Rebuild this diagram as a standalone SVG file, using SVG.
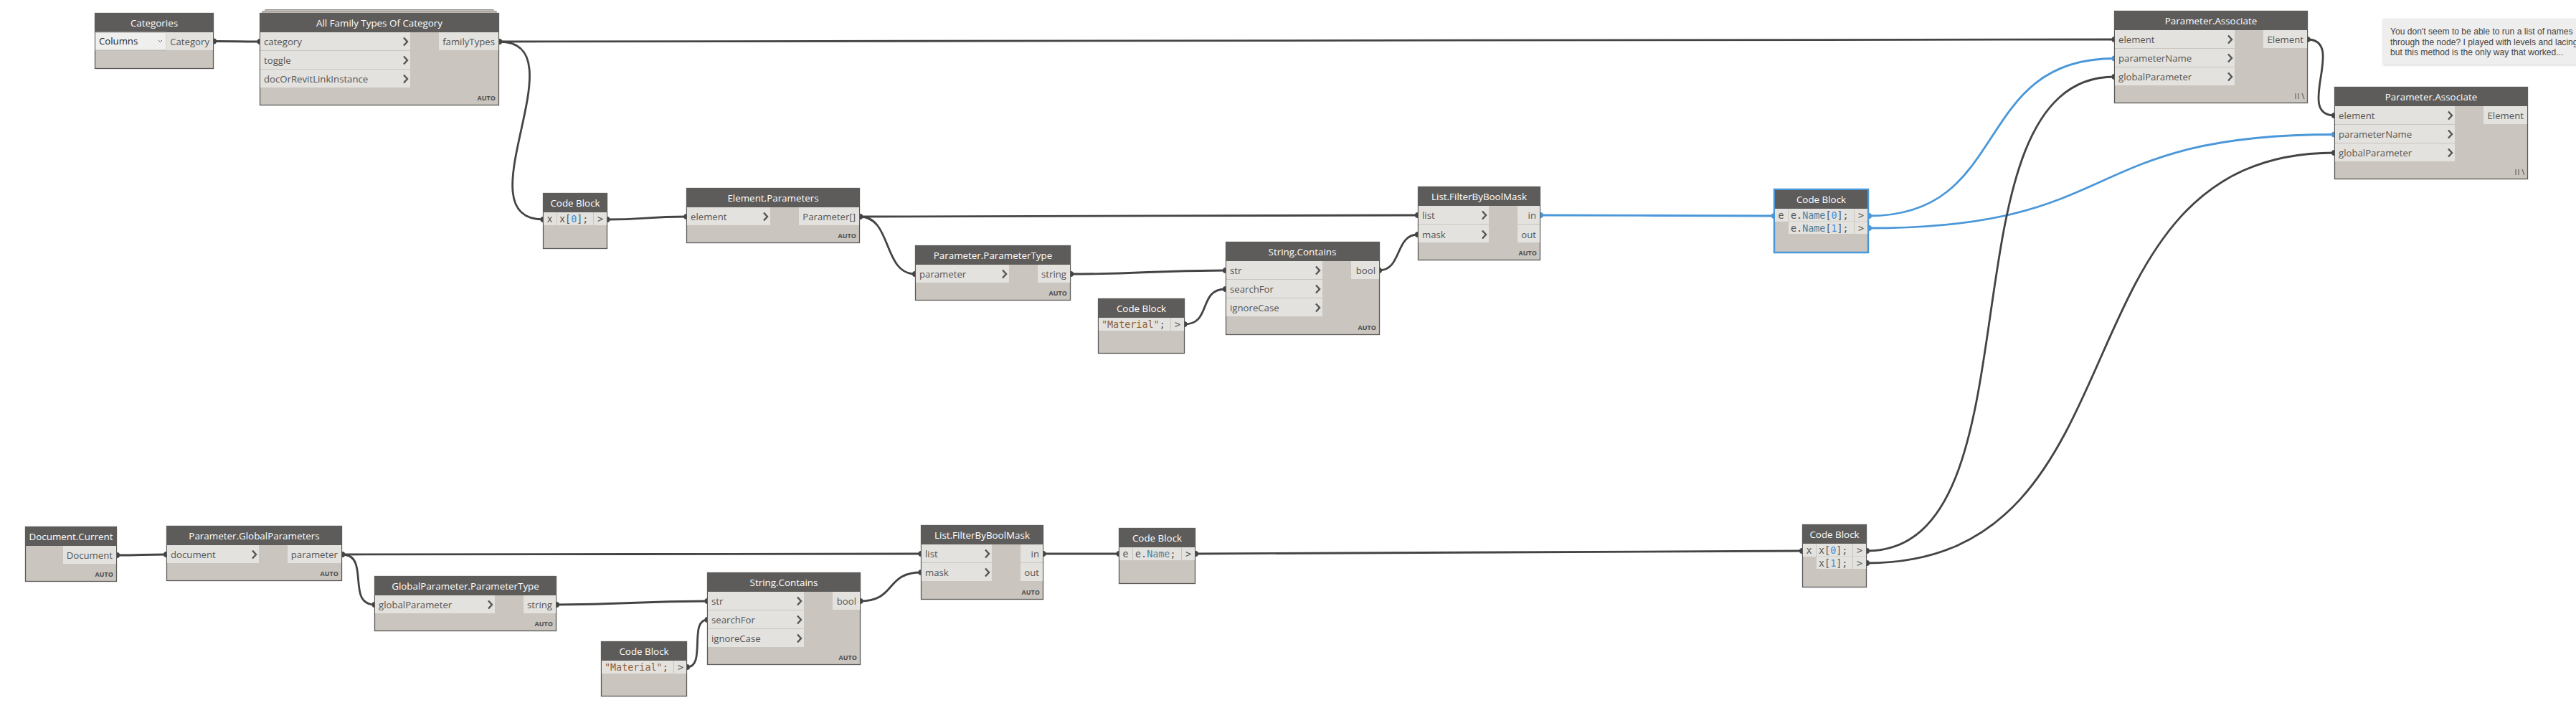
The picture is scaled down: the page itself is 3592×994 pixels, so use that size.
<svg xmlns="http://www.w3.org/2000/svg" width="3592" height="994" viewBox="0 0 3592 994">
<style>
text{font-family:"Open Sans","Noto Sans","Liberation Sans",sans-serif}
.bg{fill:#fff}
.b{fill:#cac5be;stroke:#5a5a58;stroke-width:1.3}
.h{fill:#5e5c5a}
.r{fill:#e3e2de}
.t{fill:#fff;font-size:13.4px;font-weight:500;text-anchor:middle}
.l{fill:#555;font-size:13.2px}
.o{fill:#555;font-size:13.2px;text-anchor:end}
.a{fill:#4e4e4e;font-size:9px;font-weight:700;text-anchor:end}
.c{fill:#555;font-family:"DejaVu Sans Mono","Liberation Mono",monospace;font-size:13.4px}
.n{fill:#4b7f9f}.d{fill:#3b8fe0}.s{fill:#8f5e36}
.w{fill:none;stroke:#444;stroke-width:2.8;marker-start:url(#k);marker-end:url(#k)}
.u{fill:none;stroke:#4a97d9;stroke-width:2.8;marker-start:url(#q);marker-end:url(#q)}
.v{fill:none;stroke:#555;stroke-width:2.4}
.st{fill:#cac5be;stroke:#8a8a86;stroke-width:1}
.nt{fill:#444;font-family:"Liberation Sans",Arial,sans-serif;font-size:12.1px}
.m{fill:none;stroke:#666;stroke-width:1.2}
</style>
<defs>
<marker id="k" markerUnits="userSpaceOnUse" markerWidth="10" markerHeight="10" refX="5" refY="5"><circle cx="5" cy="5" r="4" fill="#444"/></marker>
<marker id="q" markerUnits="userSpaceOnUse" markerWidth="10" markerHeight="10" refX="5" refY="5"><circle cx="5" cy="5" r="4" fill="#4a97d9"/></marker>
<path id="cv" class="v" d="M-3-5.5 2 0-3 5.5"/>
<path id="lc" class="m" d="M-12-4V4M-8-4V4M-3-4 0 4"/>
<filter id="sh" x="-5%" y="-10%" width="110%" height="125%"><feDropShadow dx="0" dy="1" stdDeviation="1.5" flood-color="#000" flood-opacity=".18"/></filter>
</defs>
<rect class="bg" width="3592" height="994"/>
<g id="connectors">
<path class="w" d="M298 57.500C330 57.500 330 58 362.500 58"/>
<path class="w" d="M696 58C1800 58 1800 55 2948.500 55"/>
<path class="w" d="M696 58C812 58 641 306 757.500 306"/>
<path class="w" d="M846.500 306C900 306 900 302 957.500 302"/>
<path class="w" d="M1199 302C1600 302 1600 300 1977 300"/>
<path class="w" d="M1199 302C1244 302 1231 382 1276 382"/>
<path class="w" d="M1493 382C1600 382 1600 377 1709 377"/>
<path class="w" d="M1651.500 452C1690 452 1670 403 1709 403"/>
<path class="w" d="M1923 377C1955 377 1945 327 1977 327"/>
<path class="u" d="M2148 300C2310 300 2310 301 2474 301"/>
<path class="u" d="M2606 301C2806 301 2748 81.500 2948.500 81.500"/>
<path class="u" d="M2606 318C2966 318 2895 187.500 3255 187.500"/>
<path class="w" d="M3217.500 55C3272 55 3200 161 3255 161"/>
<path class="w" d="M163 774C198 774 198 773 232 773"/>
<path class="w" d="M477 773C880 773 880 772 1284.500 772"/>
<path class="w" d="M477 773C517 773 482 843 522.500 843"/>
<path class="w" d="M776 843C880 843 880 838 986.500 838"/>
<path class="w" d="M958 930C985 930 960 864 986.500 864"/>
<path class="w" d="M1199.500 838C1250 838 1234 798 1284.500 798"/>
<path class="w" d="M1454.500 772C1508 772 1508 772 1560.500 772"/>
<path class="w" d="M1667 772C2090 772 2090 768 2513 768"/>
<path class="w" d="M2603 768C2853 768 2698 107 2948.500 107"/>
<path class="w" d="M2603 785C3003 785 2855 213 3255 213"/>
</g>

<g id="categories">
<rect class="b" x="132.500" y="18.500" width="165" height="77"/><rect class="h" x="132" y="18" width="166" height="27"/>
<rect x="133" y="45" width="99" height="25" fill="#efefed" stroke="#b5b3ae"/><rect class="r" x="232" y="45" width="65" height="25"/>
<text class="t" x="215" y="36.500">Categories</text>
<text class="l" x="138" y="61.500" style="fill:#222">Columns</text>
<path d="M221 56l2.500 2.500 2.500-2.500" fill="none" stroke="#666"/>
<text class="o" x="292" y="62.500">Category</text>
</g>

<g id="all-family-types">
<rect class="st" x="370" y="13.500" width="318" height="10"/><rect class="st" x="366" y="15.500" width="326" height="10"/>
<rect class="b" x="362.500" y="18.500" width="333" height="128"/><rect class="h" x="362" y="18" width="334" height="27"/>
<rect class="r" x="363" y="45" width="209" height="25"/><rect class="r" x="363" y="71" width="209" height="25"/><rect class="r" x="363" y="97" width="209" height="25"/><rect class="r" x="612" y="45" width="83" height="25"/>
<text class="t" x="529" y="36.500">All Family Types Of Category</text>
<text class="l" x="368" y="62.500">category</text><text class="l" x="368" y="88.500">toggle</text><text class="l" x="368" y="114.500">docOrRevitLinkInstance</text>
<use href="#cv" x="566" y="58"/><use href="#cv" x="566" y="84"/><use href="#cv" x="566" y="110"/>
<text class="o" x="690" y="62.500">familyTypes</text><text class="a" x="691" y="139.500">AUTO</text>
</g>

<g id="code-block-x0">
<rect class="b" x="757.500" y="269.500" width="89" height="77"/><rect class="h" x="757" y="269" width="90" height="27"/>
<rect class="r" x="758" y="296" width="18" height="18"/><rect class="r" x="777" y="296" width="50" height="18"/><rect class="r" x="828" y="296" width="18" height="18"/>
<text class="t" x="802" y="287.500">Code Block</text>
<text class="c" x="762.500" y="310">x</text><text class="c" x="780" y="310">x[<tspan class="d">0</tspan>];</text><text class="c" x="833" y="310">&gt;</text>
</g>

<g id="element-parameters">
<rect class="b" x="957.500" y="262.500" width="241" height="76"/><rect class="h" x="957" y="262" width="242" height="27"/>
<rect class="r" x="958" y="289" width="116" height="25"/><rect class="r" x="1114" y="289" width="84" height="25"/>
<text class="t" x="1078" y="280.500">Element.Parameters</text>
<text class="l" x="963" y="306.500">element</text><use href="#cv" x="1068" y="302"/>
<text class="o" x="1193" y="306.500">Parameter[]</text><text class="a" x="1194" y="331.500">AUTO</text>
</g>

<g id="parameter-parametertype">
<rect class="b" x="1276.500" y="342.500" width="216" height="76"/><rect class="h" x="1276" y="342" width="217" height="27"/>
<rect class="r" x="1277" y="369" width="130" height="25"/><rect class="r" x="1447" y="369" width="45" height="25"/>
<text class="t" x="1384.500" y="360.500">Parameter.ParameterType</text>
<text class="l" x="1282" y="386.500">parameter</text><use href="#cv" x="1401" y="382"/>
<text class="o" x="1487" y="386.500">string</text><text class="a" x="1488" y="411.500">AUTO</text>
</g>

<g id="code-block-material-1">
<rect class="b" x="1531.500" y="416.500" width="120" height="76"/><rect class="h" x="1531" y="416" width="121" height="27"/>
<rect class="r" x="1532" y="443" width="100" height="18"/><rect class="r" x="1633" y="443" width="18" height="18"/>
<text class="t" x="1591.500" y="434.500">Code Block</text>
<text class="c" x="1536" y="457"><tspan class="s">"Material"</tspan>;</text><text class="c" x="1638" y="457">&gt;</text>
</g>

<g id="string-contains-1">
<rect class="b" x="1709.500" y="337.500" width="214" height="129"/><rect class="h" x="1709" y="337" width="215" height="27"/>
<rect class="r" x="1710" y="364" width="134" height="25"/><rect class="r" x="1710" y="390" width="134" height="25"/><rect class="r" x="1710" y="416" width="134" height="25"/><rect class="r" x="1884" y="364" width="39" height="25"/>
<text class="t" x="1816" y="355.500">String.Contains</text>
<text class="l" x="1715" y="381.500">str</text><text class="l" x="1715" y="407.500">searchFor</text><text class="l" x="1715" y="433.500">ignoreCase</text>
<use href="#cv" x="1838" y="377"/><use href="#cv" x="1838" y="403"/><use href="#cv" x="1838" y="429"/>
<text class="o" x="1918" y="381.500">bool</text><text class="a" x="1919" y="459.500">AUTO</text>
</g>

<g id="list-filter-1">
<rect class="b" x="1977.500" y="260.500" width="170" height="102"/><rect class="h" x="1977" y="260" width="171" height="27"/>
<rect class="r" x="1978" y="287" width="98" height="25"/><rect class="r" x="1978" y="313" width="98" height="25"/><rect class="r" x="2116" y="287" width="31" height="25"/><rect class="r" x="2116" y="313" width="31" height="25"/>
<text class="t" x="2062.500" y="278.500">List.FilterByBoolMask</text>
<text class="l" x="1983" y="304.500">list</text><text class="l" x="1983" y="331.500">mask</text>
<use href="#cv" x="2070" y="300"/><use href="#cv" x="2070" y="327"/>
<text class="o" x="2142" y="304.500">in</text><text class="o" x="2142" y="331.500">out</text><text class="a" x="2143" y="355.500">AUTO</text>
</g>

<g id="code-block-names">
<rect class="b" x="2474" y="264" width="131" height="88" style="stroke:#4a97d9;stroke-width:2.500"/><rect class="h" x="2475" y="265" width="129" height="26"/>
<rect class="r" x="2475" y="291" width="18" height="18"/><rect class="r" x="2494" y="291" width="91" height="17.500"/><rect class="r" x="2494" y="309" width="91" height="17"/><rect class="r" x="2586" y="291" width="18" height="17.500"/><rect class="r" x="2586" y="309" width="18" height="17"/>
<text class="t" x="2539.500" y="282.500">Code Block</text>
<text class="c" x="2479.500" y="305">e</text>
<text class="c" x="2497" y="305">e.<tspan class="n">Name</tspan>[<tspan class="d">0</tspan>];</text>
<text class="c" x="2497" y="323">e.<tspan class="n">Name</tspan>[<tspan class="d">1</tspan>];</text>
<text class="c" x="2591" y="305">&gt;</text><text class="c" x="2591" y="323">&gt;</text>
</g>

<g id="parameter-associate-1">
<rect class="b" x="2948.500" y="15.500" width="269" height="128"/><rect class="h" x="2948" y="15" width="270" height="27"/>
<rect class="r" x="2949" y="42" width="167" height="25"/><rect class="r" x="2949" y="68" width="167" height="25"/><rect class="r" x="2949" y="94" width="167" height="25"/><rect class="r" x="3156" y="42" width="61" height="25"/>
<text class="t" x="3083" y="33.500">Parameter.Associate</text>
<text class="l" x="2954" y="59.500">element</text><text class="l" x="2954" y="85.500">parameterName</text><text class="l" x="2954" y="111.500">globalParameter</text>
<use href="#cv" x="3110" y="55"/><use href="#cv" x="3110" y="81"/><use href="#cv" x="3110" y="107"/>
<text class="o" x="3212" y="59.500">Element</text><use href="#lc" x="3213" y="134"/>
</g>

<g id="parameter-associate-2">
<rect class="b" x="3255.500" y="121.500" width="269" height="128"/><rect class="h" x="3255" y="121" width="270" height="27"/>
<rect class="r" x="3256" y="148" width="167" height="25"/><rect class="r" x="3256" y="174" width="167" height="25"/><rect class="r" x="3256" y="200" width="167" height="25"/><rect class="r" x="3463" y="148" width="61" height="25"/>
<text class="t" x="3390" y="139.500">Parameter.Associate</text>
<text class="l" x="3261" y="165.500">element</text><text class="l" x="3261" y="191.500">parameterName</text><text class="l" x="3261" y="217.500">globalParameter</text>
<use href="#cv" x="3417" y="161"/><use href="#cv" x="3417" y="187"/><use href="#cv" x="3417" y="213"/>
<text class="o" x="3519" y="165.500">Element</text><use href="#lc" x="3520" y="240"/>
</g>

<g id="note">
<rect x="3323" y="26" width="275" height="64" fill="#eee" filter="url(#sh)"/>
<text class="nt" x="3333" y="48">You don't seem to be able to run a list of names</text>
<text class="nt" x="3333" y="63">through the node? I played with levels and lacing</text>
<text class="nt" x="3333" y="77">but this method is the only way that worked...</text>
</g>

<g id="document-current">
<rect class="b" x="35.500" y="734.500" width="127" height="76"/><rect class="h" x="35" y="734" width="128" height="27"/>
<rect class="r" x="88" y="761" width="74" height="25"/>
<text class="t" x="99" y="752.500">Document.Current</text>
<text class="o" x="157" y="778.500">Document</text><text class="a" x="158" y="803.500">AUTO</text>
</g>

<g id="global-parameters">
<rect class="b" x="232.500" y="733.500" width="244" height="76"/><rect class="h" x="232" y="733" width="245" height="27"/>
<rect class="r" x="233" y="760" width="128" height="25"/><rect class="r" x="401" y="760" width="75" height="25"/>
<text class="t" x="354.500" y="751.500">Parameter.GlobalParameters</text>
<text class="l" x="238" y="777.500">document</text><use href="#cv" x="355" y="773"/>
<text class="o" x="471" y="777.500">parameter</text><text class="a" x="472" y="802.500">AUTO</text>
</g>

<g id="global-parameter-type">
<rect class="b" x="522.500" y="803.500" width="253" height="76"/><rect class="h" x="522" y="803" width="254" height="27"/>
<rect class="r" x="523" y="830" width="167" height="25"/><rect class="r" x="730" y="830" width="45" height="25"/>
<text class="t" x="649" y="821.500">GlobalParameter.ParameterType</text>
<text class="l" x="528" y="847.500">globalParameter</text><use href="#cv" x="684" y="843"/>
<text class="o" x="770" y="847.500">string</text><text class="a" x="771" y="872.500">AUTO</text>
</g>

<g id="code-block-material-2">
<rect class="b" x="838.500" y="894.500" width="119" height="76"/><rect class="h" x="838" y="894" width="120" height="27"/>
<rect class="r" x="839" y="921" width="100" height="18"/><rect class="r" x="940" y="921" width="17" height="18"/>
<text class="t" x="898" y="912.500">Code Block</text>
<text class="c" x="843" y="935"><tspan class="s">"Material"</tspan>;</text><text class="c" x="945" y="935">&gt;</text>
</g>

<g id="string-contains-2">
<rect class="b" x="986.500" y="798.500" width="213" height="128"/><rect class="h" x="986" y="798" width="214" height="27"/>
<rect class="r" x="987" y="825" width="134" height="25"/><rect class="r" x="987" y="851" width="134" height="25"/><rect class="r" x="987" y="877" width="134" height="25"/><rect class="r" x="1161" y="825" width="38" height="25"/>
<text class="t" x="1093" y="816.500">String.Contains</text>
<text class="l" x="992" y="842.500">str</text><text class="l" x="992" y="868.500">searchFor</text><text class="l" x="992" y="894.500">ignoreCase</text>
<use href="#cv" x="1115" y="838"/><use href="#cv" x="1115" y="864"/><use href="#cv" x="1115" y="890"/>
<text class="o" x="1194" y="842.500">bool</text><text class="a" x="1195" y="919.500">AUTO</text>
</g>

<g id="list-filter-2">
<rect class="b" x="1284.500" y="732.500" width="170" height="103"/><rect class="h" x="1284" y="732" width="171" height="27"/>
<rect class="r" x="1285" y="759" width="98" height="25"/><rect class="r" x="1285" y="785" width="98" height="25"/><rect class="r" x="1423" y="759" width="31" height="25"/><rect class="r" x="1423" y="785" width="31" height="25"/>
<text class="t" x="1369.500" y="750.500">List.FilterByBoolMask</text>
<text class="l" x="1290" y="776.500">list</text><text class="l" x="1290" y="802.500">mask</text>
<use href="#cv" x="1377" y="772"/><use href="#cv" x="1377" y="798"/>
<text class="o" x="1449" y="776.500">in</text><text class="o" x="1449" y="802.500">out</text><text class="a" x="1450" y="828.500">AUTO</text>
</g>

<g id="code-block-ename">
<rect class="b" x="1560.500" y="736.500" width="106" height="77"/><rect class="h" x="1560" y="736" width="107" height="27"/>
<rect class="r" x="1561" y="763" width="18" height="18"/><rect class="r" x="1580" y="763" width="67" height="18"/><rect class="r" x="1648" y="763" width="18" height="18"/>
<text class="t" x="1613.500" y="754.500">Code Block</text>
<text class="c" x="1565.500" y="777">e</text><text class="c" x="1583" y="777">e.<tspan class="n">Name</tspan>;</text><text class="c" x="1653" y="777">&gt;</text>
</g>

<g id="code-block-x01">
<rect class="b" x="2513.500" y="731.500" width="89" height="87"/><rect class="h" x="2513" y="731" width="90" height="27"/>
<rect class="r" x="2514" y="758" width="18" height="18"/><rect class="r" x="2533" y="758" width="50" height="17.500"/><rect class="r" x="2533" y="776" width="50" height="17"/><rect class="r" x="2584" y="758" width="18" height="17.500"/><rect class="r" x="2584" y="776" width="18" height="17"/>
<text class="t" x="2558" y="749.500">Code Block</text>
<text class="c" x="2518.500" y="772">x</text>
<text class="c" x="2536" y="772">x[<tspan class="d">0</tspan>];</text>
<text class="c" x="2536" y="790">x[<tspan class="d">1</tspan>];</text>
<text class="c" x="2589" y="772">&gt;</text><text class="c" x="2589" y="790">&gt;</text>
</g>
</svg>
